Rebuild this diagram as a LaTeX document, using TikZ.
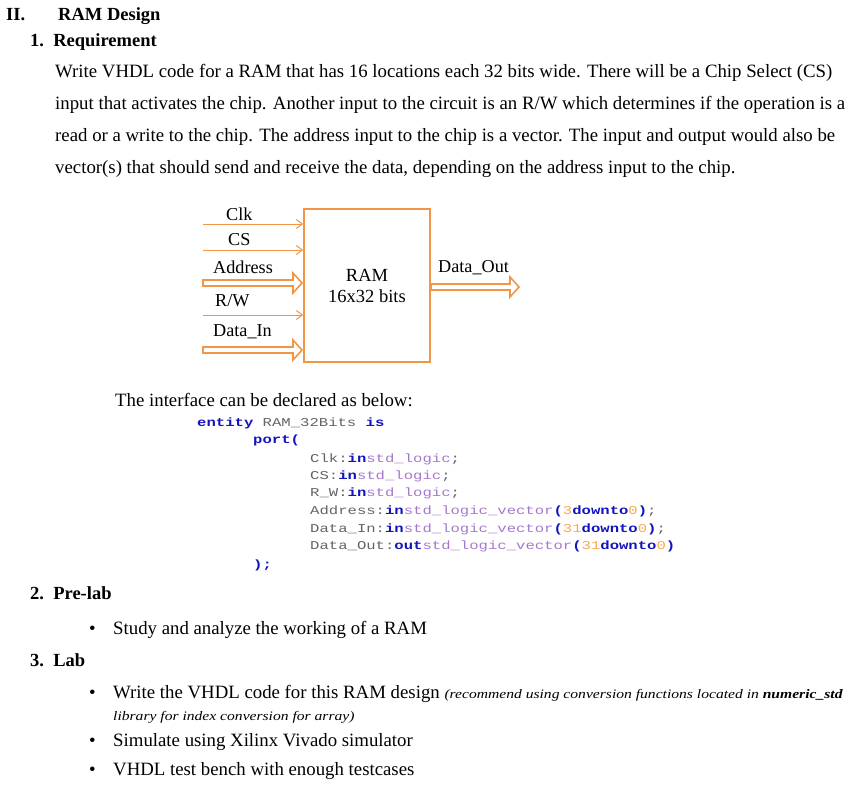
\documentclass[tikz,border=0pt]{standalone}
\usepackage{fontspec}
\setmainfont{Liberation Serif}
\newfontfamily\codefont[FakeStretch=1.3]{Liberation Mono}
\newfontfamily\notefont[FakeStretch=1.2,ItalicFont={Liberation Serif Italic},BoldItalicFont={Liberation Serif Bold Italic}]{Liberation Serif Italic}
\usetikzlibrary{arrows.meta,positioning}
\definecolor{ramorange}{RGB}{240,150,70}
\definecolor{kwblue}{RGB}{20,20,190}
\definecolor{idgray}{RGB}{100,100,100}
\definecolor{typepurple}{RGB}{165,120,205}
\definecolor{numorange}{RGB}{245,170,80}
\tikzset{
  txt/.style={anchor=base west,inner sep=0pt,font=\fontsize{18.8}{22}\selectfont},
  head/.style={txt,font=\fontsize{18.5}{22}\selectfont\bfseries},
  code/.style={anchor=base west,inner sep=0pt,font=\codefont\fontsize{12}{13}\selectfont,text=idgray},
  sig/.style={draw=ramorange,line width=1pt,-{Straight Barb[length=6pt,width=9pt]}},
  pin/.style={anchor=base west,inner sep=0pt,font=\fontsize{18.2}{20}\selectfont},
  dot/.style={anchor=base west,inner sep=0pt,font=\fontsize{18.8}{22}\selectfont}
}
\newcommand{\kw}[1]{\textcolor{kwblue}{\textbf{#1}}}
\newcommand{\ty}[1]{\textcolor{typepurple}{#1}}
\newcommand{\nm}[1]{\textcolor{numorange}{#1}}
\newcommand{\fullline}[1]{\hbox to 815pt{#1\hss}}
% hollow bus arrow from x1 to x2 at height y
\newcommand{\busarrow}[3]{%
  \draw[ramorange,line width=1.6pt,line join=miter]
    (#1,#3-3) -- (#2-9,#3-3) -- (#2-9,#3-10) -- (#2,#3) -- (#2-9,#3+10)
    -- (#2-9,#3+3) -- (#1,#3+3) -- cycle;}
\begin{document}
\begin{tikzpicture}[x=1pt,y=-1pt]
\useasboundingbox (0,0) rectangle (862,785);
% headings
\node[head] (sec) at (6,20) {II.};
\node[head] (sectitle) at (58,20) {RAM Design};
\node[head] (req) at (30,46) {1.\ \ Requirement};
\node[txt] (p1) at (55,77) {Write VHDL code for a RAM that has 16 locations each 32 bits wide. There will be a Chip Select (CS)};
\node[txt] (p2) at (55,109) {input that activates the chip. Another input to the circuit is an R/W which determines if the operation is a};
\node[txt] (p3) at (55,141) {read or a write to the chip. The address input to the chip is a vector. The input and output would also be};
\node[txt] (p4) at (55,173) {vector(s) that should send and receive the data, depending on the address input to the chip.};
% block diagram
\node[draw=ramorange,line width=1.8pt,minimum width=126pt,minimum height=153pt,
      align=center,font=\fontsize{18.5}{21}\selectfont] (ram) at (367,285.5) {RAM\\16x32 bits};
\node[pin] (clk) at (226,220) {Clk};
\node[pin] (cs) at (228,245) {CS};
\node[pin] (addr) at (213,273) {Address};
\node[pin] (rw) at (215,306) {R/W};
\node[pin] (din) at (213,336) {Data\_In};
\node[pin] (dout) at (438,272) {Data\_Out};
\coordinate (clkin) at (203,224);
\coordinate (csin) at (203,250);
\coordinate (rwin) at (203,315);
\draw[sig] (clkin) -- (clkin -| ram.west);
\draw[sig] (csin) -- (csin -| ram.west);
\draw[sig] (rwin) -- (rwin -| ram.west);
\busarrow{203}{302}{283}
\busarrow{203}{302}{350}
\busarrow{431}{519}{287}
% interface
\node[txt] (iface) at (115,406) {The interface can be declared as below:};
\node[code] (c1) at (197,426) {\kw{entity} RAM\_32Bits \kw{is}};
\node[code] (c2) at (253,443) {\kw{port(}};
\node[code] (c3) at (310,462) {Clk:\kw{in}\ty{std\_logic};};
\node[code] (c4) at (310,479) {CS:\kw{in}\ty{std\_logic};};
\node[code] (c5) at (310,496) {R\_W:\kw{in}\ty{std\_logic};};
\node[code] (c6) at (310,514) {Address:\kw{in}\ty{std\_logic\_vector}\kw{(}\nm{3}\kw{downto}\nm{0}\kw{)};};
\node[code] (c7) at (310,532) {Data\_In:\kw{in}\ty{std\_logic\_vector}\kw{(}\nm{31}\kw{downto}\nm{0}\kw{)};};
\node[code] (c8) at (310,549) {Data\_Out:\kw{out}\ty{std\_logic\_vector}\kw{(}\nm{31}\kw{downto}\nm{0}\kw{)}};
\node[code] (c9) at (253,568) {\kw{);}};
% pre-lab and lab
\node[head] (pre) at (30,599) {2.\ \ Pre-lab};
\node[dot] (d1) at (89,634) {\textbullet};
\node[txt] (b1) at (113,634) {Study and analyze the working of a RAM};
\node[head] (lab) at (30,666) {3.\ \ Lab};
\node[dot] (d2) at (89,698) {\textbullet};
\node[txt] (b2) at (113,698) {Write the VHDL code for this RAM design {\notefont\fontsize{13}{15}\selectfont (recommend using conversion functions located in \textbf{numeric\_std}}};
\node[txt,font=\notefont\fontsize{13}{15}\selectfont] (b2b) at (113,720) {library for index conversion for array)};
\node[dot] (d3) at (89,746) {\textbullet};
\node[txt] (b3) at (113,746) {Simulate using Xilinx Vivado simulator};
\node[dot] (d4) at (89,775) {\textbullet};
\node[txt] (b4) at (113,775) {VHDL test bench with enough testcases};
\end{tikzpicture}
\end{document}
